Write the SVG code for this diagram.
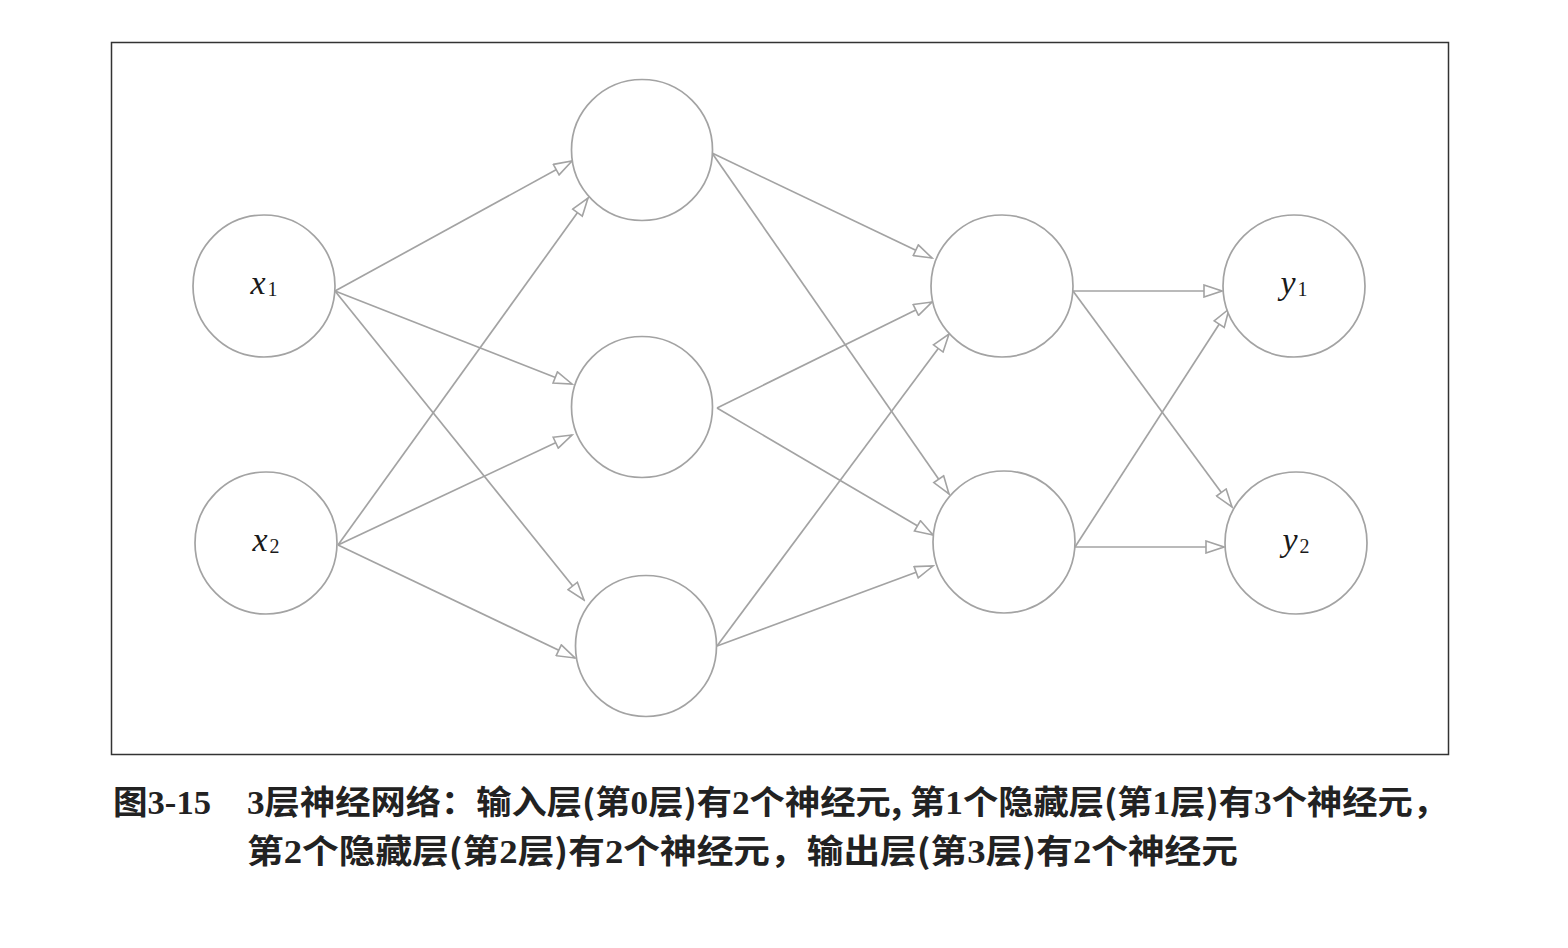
<svg xmlns="http://www.w3.org/2000/svg" width="1568" height="948" viewBox="0 0 1568 948">
<defs>
<style>
.n{fill:#fff;stroke:#a3a3a3;stroke-width:1.7}
.e{stroke:#a3a3a3;stroke-width:1.7;fill:none;marker-end:url(#ah)}
.m{font-family:"Liberation Serif","DejaVu Serif",serif;font-style:italic;font-size:34px;fill:#1a1a1a}
.s{font-style:normal;font-size:20px}
.cap{font-family:"Noto Sans CJK SC","Noto Sans",sans-serif;font-weight:700;font-size:33px;fill:#222}
.d{font-family:"Liberation Serif",serif;font-weight:700}
</style>
<marker id="ah" markerUnits="userSpaceOnUse" markerWidth="22" markerHeight="14" refX="18" refY="6" orient="auto" viewBox="-2 -1 22 14">
<path d="M0,0 L18,6 L0,12 Z" fill="#fff" stroke="#a3a3a3" stroke-width="1.6"/>
</marker>
</defs>
<rect width="1568" height="948" fill="#fff"/>
<rect x="111.5" y="42.5" width="1337" height="712" fill="none" stroke="#333" stroke-width="1.5"/>
<g id="connectors">
<line class="e" x1="335" y1="291" x2="572" y2="161"/>
<line class="e" x1="335" y1="291" x2="572" y2="384"/>
<line class="e" x1="335" y1="291" x2="584" y2="600"/>
<line class="e" x1="338" y1="545" x2="588" y2="198"/>
<line class="e" x1="338" y1="545" x2="572" y2="435"/>
<line class="e" x1="338" y1="545" x2="575" y2="658"/>
<line class="e" x1="712" y1="153" x2="932" y2="258"/>
<line class="e" x1="712" y1="153" x2="949" y2="494"/>
<line class="e" x1="717" y1="408" x2="932" y2="302"/>
<line class="e" x1="717" y1="408" x2="933" y2="535"/>
<line class="e" x1="717" y1="646" x2="949" y2="334"/>
<line class="e" x1="717" y1="646" x2="933" y2="566"/>
<line class="e" x1="1073" y1="291" x2="1222" y2="291"/>
<line class="e" x1="1073" y1="291" x2="1232" y2="507"/>
<line class="e" x1="1075" y1="547" x2="1229" y2="309"/>
<line class="e" x1="1075" y1="547" x2="1224" y2="547"/>
</g>
<g id="x1"><circle class="n" cx="264" cy="286" r="71"/><text class="m" x="264" y="294" text-anchor="middle">x<tspan class="s" dx="2" dy="2">1</tspan></text></g>
<g id="x2"><circle class="n" cx="266" cy="543" r="71"/><text class="m" x="266" y="551" text-anchor="middle">x<tspan class="s" dx="2" dy="2">2</tspan></text></g>
<g id="h1a"><circle class="n" cx="642" cy="150" r="70.5"/></g>
<g id="h1b"><circle class="n" cx="642" cy="407" r="70.5"/></g>
<g id="h1c"><circle class="n" cx="646" cy="646" r="70.5"/></g>
<g id="h2a"><circle class="n" cx="1002" cy="286" r="71"/></g>
<g id="h2b"><circle class="n" cx="1004" cy="542" r="71"/></g>
<g id="y1"><circle class="n" cx="1294" cy="286" r="71"/><text class="m" x="1294" y="294" text-anchor="middle">y<tspan class="s" dx="2" dy="2">1</tspan></text></g>
<g id="y2"><circle class="n" cx="1296" cy="543" r="71"/><text class="m" x="1296" y="551" text-anchor="middle">y<tspan class="s" dx="2" dy="2">2</tspan></text></g>
<g id="caption">
<text class="cap" x="113" y="814" textLength="98" lengthAdjust="spacingAndGlyphs">图<tspan class="d">3-15</tspan></text>
<text class="cap" x="247" y="814" textLength="1201" lengthAdjust="spacingAndGlyphs"><tspan class="d">3</tspan>层神经网络：输入层(第<tspan class="d">0</tspan>层)有<tspan class="d">2</tspan>个神经元, 第<tspan class="d">1</tspan>个隐藏层(第<tspan class="d">1</tspan>层)有<tspan class="d">3</tspan>个神经元，</text>
<text class="cap" x="247" y="863" textLength="991" lengthAdjust="spacingAndGlyphs">第<tspan class="d">2</tspan>个隐藏层(第<tspan class="d">2</tspan>层)有<tspan class="d">2</tspan>个神经元，输出层(第<tspan class="d">3</tspan>层)有<tspan class="d">2</tspan>个神经元</text>
</g>
</svg>
